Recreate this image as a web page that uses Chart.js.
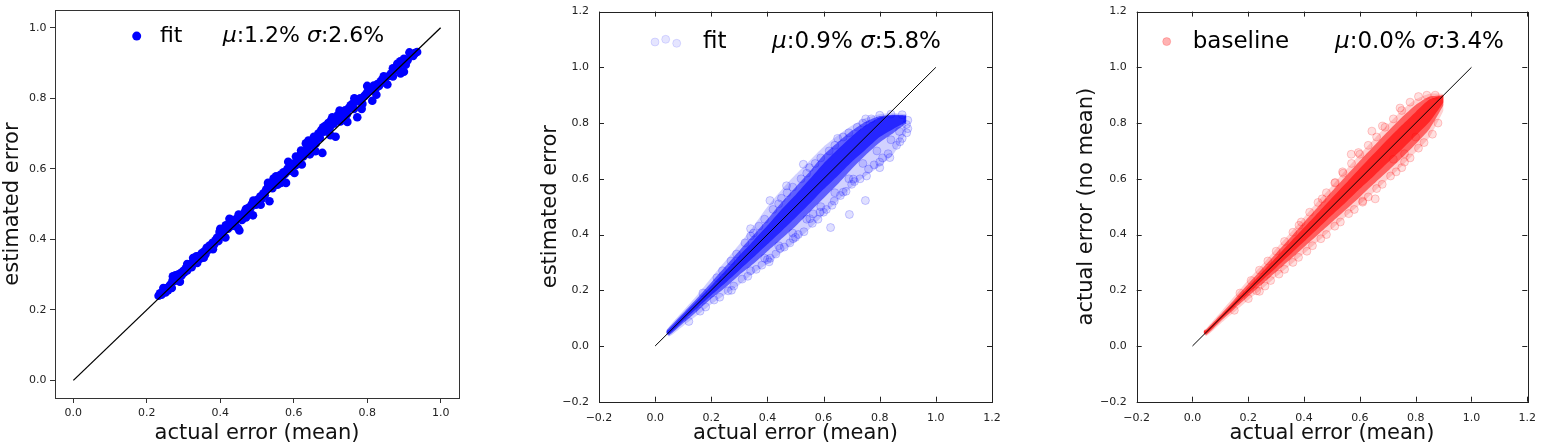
<!DOCTYPE html>
<html lang="en">
<head>
<meta charset="UTF-8">
<title>estimated vs actual error</title>
<script src="https://cdn.jsdelivr.net/npm/chart.js@4"></script>
<style>
  html, body { margin: 0; padding: 0; background: #fff; }
  body { width: 1541px; height: 444px; position: relative; overflow: hidden; }
  canvas { position: absolute; top: 0; }
</style>
</head>
<body>
<canvas id="c1" width="520" height="444" style="left:0"></canvas>
<canvas id="c2" width="540" height="444" style="left:520px"></canvas>
<canvas id="c3" width="481" height="444" style="left:1060px"></canvas>
<script>
// tick values / labels
const ticksA = [0, 0.2, 0.4, 0.6, 0.8, 1.0];
const tickLabelsA = ['0.0', '0.2', '0.4', '0.6', '0.8', '1.0'];
const ticksB = [-0.2, 0, 0.2, 0.4, 0.6, 0.8, 1.0, 1.2];
const tickLabelsB = ['\u22120.2', '0.0', '0.2', '0.4', '0.6', '0.8', '1.0', '1.2'];
const diagonal = [[0, 0], [1, 1]];

const statLabels = ['fit', 'fit', 'baseline'];
const statMu = ['1.2', '0.9', '0.0'];
const statSigma = ['2.6', '5.8', '3.4'];

// panel 1: fit, actual vs estimated
const fitPoints = [
  [0.232,0.240],[0.236,0.247],[0.240,0.243],[0.244,0.252],[0.248,0.258],[0.251,0.249],[0.255,0.262],[0.258,0.256],
  [0.262,0.268],[0.265,0.272],[0.268,0.262],[0.271,0.295],[0.274,0.281],[0.278,0.298],[0.281,0.286],[0.285,0.300],
  [0.288,0.293],[0.292,0.304],[0.295,0.298],[0.299,0.310],[0.302,0.306],[0.306,0.318],[0.310,0.312],[0.314,0.325],
  [0.318,0.330],[0.322,0.321],[0.326,0.347],[0.329,0.336],[0.333,0.341],[0.337,0.333],[0.341,0.352],[0.345,0.345],
  [0.349,0.360],[0.352,0.355],[0.356,0.365],[0.360,0.358],[0.363,0.376],[0.367,0.370],[0.371,0.382],[0.375,0.378],
  [0.379,0.390],[0.383,0.385],[0.387,0.397],[0.391,0.404],[0.395,0.395],[0.398,0.421],[0.402,0.410],[0.406,0.418],
  [0.410,0.428],[0.414,0.405],[0.418,0.436],[0.421,0.430],[0.425,0.458],[0.428,0.442],[0.432,0.438],[0.436,0.450],
  [0.440,0.445],[0.444,0.458],[0.448,0.432],[0.452,0.425],[0.455,0.462],[0.459,0.455],[0.463,0.470],[0.467,0.478],
  [0.470,0.486],[0.474,0.472],[0.478,0.490],[0.482,0.488],[0.486,0.500],[0.489,0.468],[0.493,0.505],[0.497,0.498],
  [0.501,0.512],[0.505,0.508],[0.509,0.521],[0.513,0.515],[0.517,0.530],[0.521,0.525],[0.525,0.541],[0.530,0.548],
  [0.534,0.508],[0.538,0.552],[0.542,0.545],[0.546,0.560],[0.550,0.568],[0.552,0.579],[0.556,0.555],[0.560,0.572],
  [0.564,0.583],[0.568,0.575],[0.572,0.590],[0.576,0.585],[0.579,0.560],[0.583,0.600],[0.587,0.594],[0.591,0.608],
  [0.595,0.600],[0.599,0.615],[0.602,0.588],[0.606,0.635],[0.610,0.620],[0.614,0.628],[0.618,0.640],[0.622,0.612],
  [0.626,0.635],[0.630,0.648],[0.633,0.672],[0.636,0.655],[0.640,0.662],[0.644,0.641],[0.648,0.668],[0.652,0.680],
  [0.655,0.691],[0.659,0.650],[0.663,0.684],[0.667,0.700],[0.671,0.688],[0.675,0.710],[0.678,0.645],[0.682,0.705],
  [0.686,0.722],[0.690,0.712],[0.694,0.730],[0.698,0.716],[0.702,0.738],[0.705,0.746],[0.709,0.728],[0.714,0.691],
  [0.717,0.740],[0.720,0.752],[0.723,0.755],[0.727,0.734],[0.731,0.760],[0.735,0.748],[0.740,0.766],[0.746,0.733],
  [0.750,0.772],[0.755,0.780],[0.760,0.784],[0.764,0.770],[0.768,0.790],[0.773,0.746],[0.777,0.792],[0.781,0.800],
  [0.787,0.784],[0.792,0.806],[0.797,0.812],[0.801,0.818],[0.805,0.830],[0.810,0.822],[0.814,0.793],[0.818,0.836],
  [0.823,0.828],[0.828,0.840],[0.832,0.835],[0.837,0.848],[0.841,0.853],[0.846,0.845],[0.851,0.858],[0.855,0.839],
  [0.860,0.864],[0.865,0.870],[0.870,0.862],[0.874,0.878],[0.878,0.885],[0.882,0.898],[0.886,0.890],[0.891,0.870],
  [0.895,0.902],[0.900,0.912],[0.905,0.895],[0.910,0.908],[0.918,0.925],[0.925,0.920],[0.930,0.928],[0.936,0.931],
  [0.245,0.262],[0.270,0.283],[0.290,0.280],[0.310,0.330],[0.335,0.352],[0.355,0.348],[0.380,0.372],[0.400,0.430],
  [0.415,0.440],[0.430,0.455],[0.450,0.470],[0.470,0.462],[0.490,0.510],[0.510,0.498],[0.530,0.560],[0.545,0.572],
  [0.565,0.560],[0.585,0.620],[0.605,0.610],[0.620,0.652],[0.640,0.680],[0.660,0.672],[0.680,0.718],[0.700,0.695],
  [0.725,0.765],[0.745,0.755],[0.765,0.800],[0.785,0.770],[0.800,0.835],[0.825,0.810],[0.845,0.862],[0.870,0.885],
  [0.890,0.905],[0.900,0.875],[0.915,0.930]
];

// panel 2: fit, dense cloud read as nested envelopes + sparse points
const fitBandX      = [0.04, 0.05, 0.10, 0.15, 0.20, 0.25, 0.30, 0.35, 0.40, 0.45, 0.50, 0.55, 0.60, 0.65, 0.70, 0.75, 0.80, 0.85, 0.895];
const fitInnerLow   = [0.047,0.043,0.090,0.136,0.182,0.226,0.272,0.318,0.365,0.412,0.460,0.510,0.562,0.610,0.660,0.705,0.750,0.780,0.805];
const fitInnerHigh  = [0.053,0.060,0.112,0.163,0.216,0.270,0.325,0.378,0.432,0.490,0.542,0.598,0.655,0.705,0.752,0.792,0.820,0.828,0.826];
const fitCoreLow    = [0.045,0.038,0.082,0.125,0.170,0.210,0.255,0.295,0.340,0.385,0.430,0.480,0.530,0.580,0.635,0.685,0.730,0.765,0.800];
const fitCoreHigh   = [0.055,0.066,0.118,0.172,0.228,0.285,0.342,0.398,0.455,0.515,0.570,0.625,0.685,0.730,0.772,0.805,0.825,0.830,0.828];
const fitSpreadLow  = [0.043,0.034,0.072,0.110,0.150,0.185,0.220,0.260,0.295,0.335,0.375,0.420,0.470,0.520,0.570,0.610,0.645,0.690,0.765];
const fitSpreadHigh = [0.057,0.070,0.126,0.183,0.245,0.305,0.365,0.430,0.500,0.560,0.615,0.665,0.715,0.755,0.790,0.818,0.832,0.835,0.832];
const fitScatter = [
  [0.12,0.088],[0.16,0.125],[0.18,0.14],[0.21,0.165],[0.23,0.175],[0.26,0.198],[0.28,0.215],[0.31,0.24],[0.33,0.25],
  [0.36,0.275],[0.38,0.29],[0.41,0.315],[0.43,0.33],[0.46,0.355],[0.48,0.37],[0.51,0.4],[0.53,0.41],[0.56,0.44],
  [0.58,0.455],[0.61,0.49],[0.63,0.505],[0.66,0.54],[0.68,0.555],[0.71,0.59],[0.73,0.6],[0.76,0.635],[0.78,0.65],
  [0.81,0.675],[0.83,0.69],[0.86,0.72],[0.88,0.745],[0.9,0.78],[0.9,0.81],[0.895,0.795],[0.87,0.77],[0.84,0.74],
  [0.79,0.7],[0.74,0.655],[0.69,0.6],[0.64,0.55],[0.59,0.5],[0.54,0.455],[0.49,0.405],[0.44,0.36],[0.39,0.315],[0.34,0.27],
  [0.17,0.19],[0.22,0.245],[0.24,0.27],[0.27,0.305],[0.29,0.33],[0.32,0.37],[0.34,0.395],[0.37,0.43],[0.39,0.455],
  [0.42,0.49],[0.44,0.51],[0.47,0.55],[0.49,0.57],[0.52,0.6],[0.54,0.62],[0.57,0.655],[0.59,0.675],[0.62,0.7],
  [0.64,0.72],[0.67,0.75],[0.69,0.765],[0.72,0.785],[0.74,0.8],[0.77,0.815],[0.8,0.828],[0.84,0.832],[0.88,0.83],
  [0.625,0.425],[0.692,0.472],[0.749,0.522],[0.638,0.52],[0.753,0.61],[0.80,0.64],[0.836,0.676],[0.872,0.733],
  [0.896,0.765],[0.528,0.652],[0.468,0.575],[0.409,0.522],[0.34,0.421],[0.406,0.302],[0.272,0.20],[0.563,0.474],
  [0.587,0.48],[0.551,0.457],[0.706,0.599],[0.67,0.552],[0.492,0.385],[0.445,0.35],
  [0.35,0.405],[0.45,0.53],[0.55,0.64],[0.65,0.745],[0.75,0.815],[0.4,0.31],[0.5,0.39],[0.6,0.48],[0.7,0.58],[0.8,0.66]
];

// panel 3: baseline
const baseBandX      = [0.04, 0.05, 0.10, 0.15, 0.20, 0.25, 0.30, 0.35, 0.40, 0.45, 0.50, 0.55, 0.60, 0.65, 0.70, 0.75, 0.80, 0.85, 0.90];
const baseInnerLow   = [0.047,0.044,0.094,0.141,0.188,0.235,0.281,0.328,0.375,0.422,0.470,0.516,0.564,0.610,0.658,0.705,0.755,0.805,0.875];
const baseInnerHigh  = [0.053,0.056,0.106,0.159,0.212,0.265,0.318,0.372,0.425,0.478,0.532,0.584,0.638,0.690,0.742,0.792,0.840,0.885,0.900];
const baseCoreLow    = [0.045,0.040,0.088,0.133,0.178,0.222,0.266,0.310,0.355,0.400,0.445,0.490,0.535,0.582,0.628,0.675,0.725,0.780,0.865];
const baseCoreHigh   = [0.055,0.060,0.112,0.167,0.223,0.278,0.333,0.388,0.445,0.500,0.555,0.610,0.665,0.718,0.770,0.820,0.865,0.895,0.900];
const baseSpreadLow  = [0.043,0.036,0.080,0.122,0.165,0.205,0.248,0.290,0.332,0.375,0.420,0.465,0.508,0.552,0.598,0.645,0.695,0.750,0.845];
const baseSpreadHigh = [0.057,0.064,0.120,0.178,0.238,0.292,0.350,0.405,0.462,0.520,0.575,0.632,0.688,0.742,0.795,0.845,0.885,0.905,0.905];
const baseScatter = [
  [0.15,0.128],[0.2,0.17],[0.23,0.198],[0.26,0.215],[0.28,0.235],[0.31,0.258],[0.33,0.275],[0.36,0.3],[0.38,0.318],
  [0.41,0.34],[0.43,0.36],[0.46,0.385],[0.48,0.4],[0.51,0.43],[0.53,0.445],[0.56,0.475],[0.58,0.49],[0.61,0.52],
  [0.63,0.535],[0.66,0.565],[0.68,0.58],[0.71,0.61],[0.73,0.625],[0.76,0.66],[0.78,0.675],[0.81,0.71],[0.83,0.73],
  [0.86,0.76],[0.88,0.8],
  [0.17,0.19],[0.21,0.235],[0.24,0.272],[0.27,0.305],[0.3,0.34],[0.33,0.375],[0.36,0.408],[0.39,0.445],[0.42,0.48],
  [0.45,0.515],[0.48,0.55],[0.51,0.585],[0.54,0.62],[0.57,0.655],[0.6,0.688],[0.63,0.72],[0.66,0.75],[0.69,0.785],
  [0.72,0.815],[0.75,0.845],[0.78,0.875],[0.81,0.895],[0.84,0.9],[0.87,0.9],
  [0.569,0.688],[0.643,0.771],[0.681,0.789],[0.538,0.625],[0.655,0.528],[0.61,0.516],[0.744,0.854],[0.75,0.64],
  [0.8,0.75],[0.72,0.67],[0.595,0.694],[0.512,0.587],[0.465,0.528],[0.382,0.433],[0.24,0.196],[0.76,0.69]
];

Chart.defaults.font.family = '"DejaVu Sans", sans-serif';

const pts = arr => arr.map(p => ({ x: p[0], y: p[1] }));
const band = (xs, ys) => xs.map((x, i) => ({ x: x, y: ys[i] }));

// frame, inner ticks (classic style) and the legend box text
const decor = {
  id: 'decor',
  afterDatasetsDraw(chart, args, o) {
    const ctx = chart.ctx, a = chart.chartArea;
    const xs = chart.scales.x, ys = chart.scales.y;
    ctx.save();
    ctx.strokeStyle = o.frame;
    ctx.lineWidth = 1;
    if (o.inner) {
      ctx.beginPath();
      o.ticks.forEach(v => {
        const px = Math.round(xs.getPixelForValue(v)) + 0.5;
        ctx.moveTo(px, a.bottom); ctx.lineTo(px, a.bottom - 5);
        ctx.moveTo(px, a.top); ctx.lineTo(px, a.top + 5);
        const py = Math.round(ys.getPixelForValue(v)) + 0.5;
        ctx.moveTo(a.left, py); ctx.lineTo(a.left + 5, py);
        ctx.moveTo(a.right, py); ctx.lineTo(a.right - 5, py);
      });
      ctx.stroke();
    }
    ctx.strokeRect(Math.round(a.left) + 0.5, Math.round(a.top) + 0.5, Math.round(a.width), Math.round(a.height));

    const lg = o.legend;
    lg.markers.forEach(m => {
      ctx.beginPath();
      ctx.arc(a.left + m[0], a.top + m[1], lg.r, 0, Math.PI * 2);
      ctx.fillStyle = lg.fill;
      ctx.fill();
      if (lg.stroke) { ctx.strokeStyle = lg.stroke; ctx.stroke(); }
    });
    ctx.fillStyle = '#000';
    ctx.textBaseline = 'alphabetic';
    ctx.textAlign = 'left';
    const y = a.top + lg.dy;
    ctx.font = lg.size + 'px "DejaVu Sans"';
    ctx.fillText(lg.label, a.left + lg.textDx, y);
    let x = a.left + lg.statDx;
    const parts = [['\u03bc', true], [':' + lg.mu + '% ', false], ['\u03c3', true], [':' + lg.sigma + '%', false]];
    parts.forEach(p => {
      ctx.font = (p[1] ? 'italic ' : '') + lg.size + 'px "DejaVu Sans"';
      ctx.fillText(p[0], x, y);
      x += ctx.measureText(p[0]).width;
    });
    ctx.restore();
  }
};

function axis(ticks, labels, min, max, title, inner, size, titlePad) {
  return {
    type: 'linear',
    min: min,
    max: max,
    afterBuildTicks: s => { s.ticks = ticks.map(v => ({ value: v })); },
    afterFit: s => { if (s.isHorizontal()) s.height = size; else s.width = size; },
    border: { display: false },
    grid: { display: !inner, drawOnChartArea: false, drawTicks: true, tickLength: 5, tickColor: '#333' },
    ticks: {
      autoSkip: false, maxRotation: 0, color: '#222', font: { size: 11 },
      padding: inner ? 5 : 3.5,
      callback: v => labels[ticks.indexOf(v)]
    },
    title: { display: true, text: title, color: '#111', font: { size: 21, lineHeight: 1 }, padding: titlePad }
  };
}

function lineSet(data, extra) {
  return Object.assign({
    type: 'line', data: data, pointRadius: 0, borderWidth: 1,
    borderColor: 'rgba(0,0,0,0)', fill: false, tension: 0.2
  }, extra);
}

const common = { responsive: false, animation: false, events: [], parsing: true };

// panel 1
new Chart(document.getElementById('c1'), {
  type: 'scatter',
  data: {
    datasets: [
      lineSet(pts(diagonal), { borderColor: '#000', borderWidth: 1.3, tension: 0, order: 0 }),
      { type: 'scatter', data: pts(fitPoints), backgroundColor: '#0000ff', borderColor: '#0000ff',
        borderWidth: 0, pointRadius: 4.3, order: 1 }
    ]
  },
  options: Object.assign({}, common, {
    layout: { padding: { left: 0, right: 61, top: 5, bottom: 0 } },
    scales: {
      x: axis(ticksA, tickLabelsA, -0.05, 1.05, 'actual error (mean)', false, 46, { top: 0, bottom: 0 }),
      y: axis(ticksA, tickLabelsA, -0.05, 1.05, 'estimated error', false, 55, { top: 2.5, bottom: 0 })
    },
    plugins: {
      legend: { display: false }, tooltip: { enabled: false },
      decor: { frame: '#333', inner: false, ticks: ticksA,
        legend: { label: statLabels[0], mu: statMu[0], sigma: statSigma[0], size: 22,
          textDx: 105, statDx: 167.7, dy: 32.3, r: 4.5, fill: '#0000ff', markers: [[81.7, 26]] } }
    }
  }),
  plugins: [decor]
});

// panels 2 and 3 share the classic layout
function cloudChart(id, color, bandX, innerLo, innerHi, coreLo, coreHi, sprLo, sprHi, scatter, yTitle, padRight, axisW, yPad, lg) {
  return new Chart(document.getElementById(id), {
    type: 'scatter',
    data: {
      datasets: [
        lineSet(pts(diagonal), { borderColor: '#000', borderWidth: 1, tension: 0, order: 0 }),
        { type: 'scatter', data: pts(scatter), backgroundColor: 'rgba(' + color + ',0.12)',
          borderColor: 'rgba(' + color + ',0.2)', borderWidth: 1, pointRadius: 4, order: 1 },
        lineSet(band(bandX, innerLo), { order: 2 }),
        lineSet(band(bandX, innerHi), { order: 2, fill: '-1', backgroundColor: 'rgba(' + color + ',0.6)' }),
        lineSet(band(bandX, coreLo), { order: 3 }),
        lineSet(band(bandX, coreHi), { order: 3, fill: '-1', backgroundColor: 'rgba(' + color + ',0.55)' }),
        lineSet(band(bandX, sprLo), { order: 4 }),
        lineSet(band(bandX, sprHi), { order: 4, fill: '-1', backgroundColor: 'rgba(' + color + ',0.18)' })
      ]
    },
    options: Object.assign({}, common, {
      layout: { padding: { left: 0, right: padRight, top: 7.3, bottom: 0 } },
      scales: {
        x: axis(ticksB, tickLabelsB, -0.2, 1.2, 'actual error (mean)', true, 42.3, { top: 0, bottom: 0 }),
        y: axis(ticksB, tickLabelsB, -0.2, 1.2, yTitle, true, axisW, { top: yPad, bottom: 0 })
      },
      plugins: {
        legend: { display: false }, tooltip: { enabled: false },
        decor: { frame: '#222', inner: true, ticks: ticksB, legend: lg }
      }
    }),
    plugins: [decor]
  });
}

cloudChart('c2', '0,0,255', fitBandX, fitInnerLow, fitInnerHigh, fitCoreLow, fitCoreHigh, fitSpreadLow, fitSpreadHigh, fitScatter,
  'estimated error', 68, 79, 20.5,
  { label: statLabels[1], mu: statMu[1], sigma: statSigma[1], size: 23, textDx: 104, statDx: 173, dy: 36,
    r: 4, fill: 'rgba(0,0,255,0.1)', stroke: 'rgba(0,0,255,0.12)', markers: [[56, 30.4], [66.7, 27.7], [77.7, 31.7]] });

cloudChart('c3', '255,0,0', baseBandX, baseInnerLow, baseInnerHigh, baseCoreLow, baseCoreHigh, baseSpreadLow, baseSpreadHigh, baseScatter,
  'actual error (no mean)', 11, 76.7, 16,
  { label: statLabels[2], mu: statMu[2], sigma: statSigma[2], size: 23, textDx: 56, statDx: 198.3, dy: 36,
    r: 4, fill: 'rgba(255,0,0,0.3)', stroke: 'rgba(255,0,0,0.2)', markers: [[30, 30]] });
</script>
</body>
</html>
